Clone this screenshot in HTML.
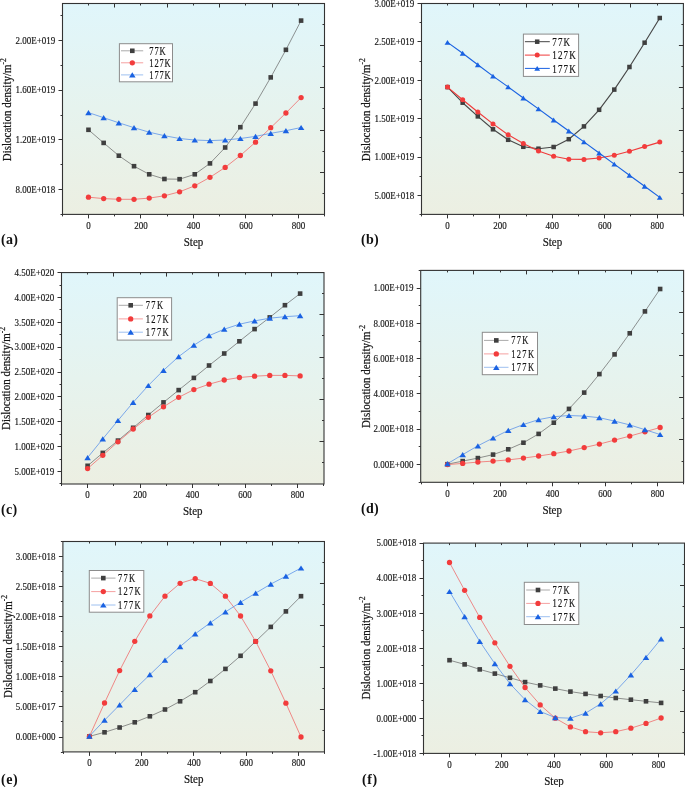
<!DOCTYPE html>
<html><head><meta charset="utf-8"><style>
html,body{margin:0;padding:0;background:#fff;width:685px;height:787px;overflow:hidden}
svg{display:block}
text{font-family:"Liberation Serif", serif;fill:#151515}
.t9{font-size:9px;stroke:#1a1a1a;stroke-width:0.15px}
.t11{font-size:11px;stroke:#1a1a1a;stroke-width:0.2px}
.sup{font-size:7.6px}
.lab{font-size:14px;font-weight:bold;fill:#111}
.leg{font-size:11.8px;fill:#151515;letter-spacing:1.7px;stroke:#1a1a1a;stroke-width:0.2px}
.tk{stroke:#333;stroke-width:1}
rect[fill=none]{stroke:#333}
</style></head><body>
<svg width="685" height="787" viewBox="0 0 685 787">
<defs><filter id="nf" x="0" y="0" width="1" height="1"><feOffset dx="0" dy="0"/></filter><linearGradient id="ga" x1="0" y1="0" x2="0" y2="1"><stop offset="0" stop-color="#e0f6fb"/><stop offset="0.5" stop-color="#e6f3ee"/><stop offset="1" stop-color="#ecefe2"/></linearGradient><linearGradient id="gb" x1="0" y1="0" x2="0" y2="1"><stop offset="0" stop-color="#e0f6fb"/><stop offset="0.5" stop-color="#e6f3ee"/><stop offset="1" stop-color="#ecefe2"/></linearGradient><linearGradient id="gc" x1="0" y1="0" x2="0" y2="1"><stop offset="0" stop-color="#e0f6fb"/><stop offset="0.5" stop-color="#e6f3ee"/><stop offset="1" stop-color="#ecefe2"/></linearGradient><linearGradient id="gd" x1="0" y1="0" x2="0" y2="1"><stop offset="0" stop-color="#e0f6fb"/><stop offset="0.5" stop-color="#e6f3ee"/><stop offset="1" stop-color="#ecefe2"/></linearGradient><linearGradient id="ge" x1="0" y1="0" x2="0" y2="1"><stop offset="0" stop-color="#e0f6fb"/><stop offset="0.5" stop-color="#e6f3ee"/><stop offset="1" stop-color="#ecefe2"/></linearGradient><linearGradient id="gf" x1="0" y1="0" x2="0" y2="1"><stop offset="0" stop-color="#e0f6fb"/><stop offset="0.5" stop-color="#e6f3ee"/><stop offset="1" stop-color="#ecefe2"/></linearGradient></defs>
<g id="pa"><rect x="62.5" y="3.5" width="262" height="210.9" fill="url(#ga)"/>
<line class="tk" x1="60.5" y1="214.5" x2="62.5" y2="214.5"/>
<line class="tk" x1="58.5" y1="189.5" x2="62.5" y2="189.5"/>
<line class="tk" x1="60.5" y1="164.5" x2="62.5" y2="164.5"/>
<line class="tk" x1="58.5" y1="139.5" x2="62.5" y2="139.5"/>
<line class="tk" x1="60.5" y1="115.5" x2="62.5" y2="115.5"/>
<line class="tk" x1="58.5" y1="90.5" x2="62.5" y2="90.5"/>
<line class="tk" x1="60.5" y1="65.5" x2="62.5" y2="65.5"/>
<line class="tk" x1="58.5" y1="40.5" x2="62.5" y2="40.5"/>
<line class="tk" x1="60.5" y1="15.5" x2="62.5" y2="15.5"/>
<line class="tk" x1="322.5" y1="24.5" x2="324.5" y2="24.5"/>
<line class="tk" x1="320" y1="45.5" x2="324.5" y2="45.5"/>
<line class="tk" x1="322.5" y1="66.5" x2="324.5" y2="66.5"/>
<line class="tk" x1="320" y1="87.5" x2="324.5" y2="87.5"/>
<line class="tk" x1="322.5" y1="108.5" x2="324.5" y2="108.5"/>
<line class="tk" x1="320" y1="130.5" x2="324.5" y2="130.5"/>
<line class="tk" x1="322.5" y1="151.5" x2="324.5" y2="151.5"/>
<line class="tk" x1="320" y1="172.5" x2="324.5" y2="172.5"/>
<line class="tk" x1="322.5" y1="193.5" x2="324.5" y2="193.5"/>
<line class="tk" x1="62.5" y1="214.4" x2="62.5" y2="216.4"/>
<line class="tk" x1="88.5" y1="214.4" x2="88.5" y2="218.4"/>
<line class="tk" x1="88.5" y1="3.5" x2="88.5" y2="5.5"/>
<line class="tk" x1="114.5" y1="214.4" x2="114.5" y2="216.4"/>
<line class="tk" x1="114.5" y1="3.5" x2="114.5" y2="7.5"/>
<line class="tk" x1="140.5" y1="214.4" x2="140.5" y2="218.4"/>
<line class="tk" x1="140.5" y1="3.5" x2="140.5" y2="5.5"/>
<line class="tk" x1="167.5" y1="214.4" x2="167.5" y2="216.4"/>
<line class="tk" x1="167.5" y1="3.5" x2="167.5" y2="7.5"/>
<line class="tk" x1="193.5" y1="214.4" x2="193.5" y2="218.4"/>
<line class="tk" x1="193.5" y1="3.5" x2="193.5" y2="5.5"/>
<line class="tk" x1="219.5" y1="214.4" x2="219.5" y2="216.4"/>
<line class="tk" x1="219.5" y1="3.5" x2="219.5" y2="7.5"/>
<line class="tk" x1="245.5" y1="214.4" x2="245.5" y2="218.4"/>
<line class="tk" x1="245.5" y1="3.5" x2="245.5" y2="5.5"/>
<line class="tk" x1="272.5" y1="214.4" x2="272.5" y2="216.4"/>
<line class="tk" x1="272.5" y1="3.5" x2="272.5" y2="7.5"/>
<line class="tk" x1="298.5" y1="214.4" x2="298.5" y2="218.4"/>
<line class="tk" x1="298.5" y1="3.5" x2="298.5" y2="5.5"/>
<line class="tk" x1="324.5" y1="214.4" x2="324.5" y2="216.4"/>
<rect x="62.5" y="3.5" width="262" height="210.9" fill="none" stroke-width="1.1"/>
<polyline points="88.47,129.8 103.66,142.9 118.84,155.7 134.03,166.2 149.22,174.3 164.41,179 179.6,179.2 194.78,174.3 209.97,163.4 225.16,147.5 240.35,127.2 255.53,103.6 270.72,77.4 285.91,49.8 301.1,20.6" fill="none" stroke="#646464" stroke-width="0.7" stroke-linejoin="round"/>
<rect x="86.17" y="127.5" width="4.6" height="4.6" fill="#3f3f3f"/>
<rect x="101.36" y="140.6" width="4.6" height="4.6" fill="#3f3f3f"/>
<rect x="116.55" y="153.4" width="4.6" height="4.6" fill="#3f3f3f"/>
<rect x="131.73" y="163.9" width="4.6" height="4.6" fill="#3f3f3f"/>
<rect x="146.92" y="172" width="4.6" height="4.6" fill="#3f3f3f"/>
<rect x="162.11" y="176.7" width="4.6" height="4.6" fill="#3f3f3f"/>
<rect x="177.3" y="176.9" width="4.6" height="4.6" fill="#3f3f3f"/>
<rect x="192.48" y="172" width="4.6" height="4.6" fill="#3f3f3f"/>
<rect x="207.67" y="161.1" width="4.6" height="4.6" fill="#3f3f3f"/>
<rect x="222.86" y="145.2" width="4.6" height="4.6" fill="#3f3f3f"/>
<rect x="238.05" y="124.9" width="4.6" height="4.6" fill="#3f3f3f"/>
<rect x="253.23" y="101.3" width="4.6" height="4.6" fill="#3f3f3f"/>
<rect x="268.42" y="75.1" width="4.6" height="4.6" fill="#3f3f3f"/>
<rect x="283.61" y="47.5" width="4.6" height="4.6" fill="#3f3f3f"/>
<rect x="298.8" y="18.3" width="4.6" height="4.6" fill="#3f3f3f"/>
<polyline points="88.47,197.2 103.66,198.6 118.84,199.3 134.03,199.3 149.22,198.1 164.41,195.8 179.6,191.8 194.78,185.8 209.97,177.3 225.16,167.4 240.35,155.5 255.53,142.2 270.72,127.7 285.91,113 301.1,97.6" fill="none" stroke="#f05a5a" stroke-width="0.7" stroke-linejoin="round"/>
<circle cx="88.47" cy="197.2" r="2.65" fill="#f23c3c"/>
<circle cx="103.66" cy="198.6" r="2.65" fill="#f23c3c"/>
<circle cx="118.84" cy="199.3" r="2.65" fill="#f23c3c"/>
<circle cx="134.03" cy="199.3" r="2.65" fill="#f23c3c"/>
<circle cx="149.22" cy="198.1" r="2.65" fill="#f23c3c"/>
<circle cx="164.41" cy="195.8" r="2.65" fill="#f23c3c"/>
<circle cx="179.6" cy="191.8" r="2.65" fill="#f23c3c"/>
<circle cx="194.78" cy="185.8" r="2.65" fill="#f23c3c"/>
<circle cx="209.97" cy="177.3" r="2.65" fill="#f23c3c"/>
<circle cx="225.16" cy="167.4" r="2.65" fill="#f23c3c"/>
<circle cx="240.35" cy="155.5" r="2.65" fill="#f23c3c"/>
<circle cx="255.53" cy="142.2" r="2.65" fill="#f23c3c"/>
<circle cx="270.72" cy="127.7" r="2.65" fill="#f23c3c"/>
<circle cx="285.91" cy="113" r="2.65" fill="#f23c3c"/>
<circle cx="301.1" cy="97.6" r="2.65" fill="#f23c3c"/>
<polyline points="88.47,112.6 103.66,117.7 118.84,122.8 134.03,127.7 149.22,132.2 164.41,135.7 179.6,138.5 194.78,140 209.97,140.6 225.16,140 240.35,138.5 255.53,136.4 270.72,133.3 285.91,130.7 301.1,127.5" fill="none" stroke="#4a86e8" stroke-width="0.7" stroke-linejoin="round"/>
<polygon points="85.22,115.2 91.72,115.2 88.47,110" fill="#1a62e2"/>
<polygon points="100.41,120.3 106.91,120.3 103.66,115.1" fill="#1a62e2"/>
<polygon points="115.59,125.4 122.09,125.4 118.84,120.2" fill="#1a62e2"/>
<polygon points="130.78,130.3 137.28,130.3 134.03,125.1" fill="#1a62e2"/>
<polygon points="145.97,134.8 152.47,134.8 149.22,129.6" fill="#1a62e2"/>
<polygon points="161.16,138.3 167.66,138.3 164.41,133.1" fill="#1a62e2"/>
<polygon points="176.35,141.1 182.85,141.1 179.6,135.9" fill="#1a62e2"/>
<polygon points="191.53,142.6 198.03,142.6 194.78,137.4" fill="#1a62e2"/>
<polygon points="206.72,143.2 213.22,143.2 209.97,138" fill="#1a62e2"/>
<polygon points="221.91,142.6 228.41,142.6 225.16,137.4" fill="#1a62e2"/>
<polygon points="237.1,141.1 243.6,141.1 240.35,135.9" fill="#1a62e2"/>
<polygon points="252.28,139 258.78,139 255.53,133.8" fill="#1a62e2"/>
<polygon points="267.47,135.9 273.97,135.9 270.72,130.7" fill="#1a62e2"/>
<polygon points="282.66,133.3 289.16,133.3 285.91,128.1" fill="#1a62e2"/>
<polygon points="297.85,130.1 304.35,130.1 301.1,124.9" fill="#1a62e2"/>
<rect x="119.4" y="43.7" width="53.1" height="38.1" fill="#ffffff" stroke="#8c8c8c" stroke-width="1"/>
<line x1="121" y1="50.8" x2="143.2" y2="50.8" stroke="#aaa" stroke-width="1"/>
<rect x="130" y="48.5" width="4.6" height="4.6" fill="#3f3f3f"/>
<line x1="121" y1="62.8" x2="143.2" y2="62.8" stroke="#f5a0a0" stroke-width="1"/>
<circle cx="132.3" cy="62.8" r="2.65" fill="#f23c3c"/>
<line x1="121" y1="74.9" x2="143.2" y2="74.9" stroke="#9ec0f0" stroke-width="1"/>
<polygon points="129.05,77.5 135.55,77.5 132.3,72.3" fill="#1a62e2"/><g filter="url(#nf)"><text class="t9" transform="translate(55.2,192.87) scale(1,1.08)" text-anchor="end">8.00E+018</text>
<text class="t9" transform="translate(55.2,143.18) scale(1,1.08)" text-anchor="end">1.20E+019</text>
<text class="t9" transform="translate(55.2,93.49) scale(1,1.08)" text-anchor="end">1.60E+019</text>
<text class="t9" transform="translate(55.2,43.8) scale(1,1.08)" text-anchor="end">2.00E+019</text>
<text class="t9" transform="translate(88.47,228.6) scale(1,1.08)" text-anchor="middle">0</text>
<text class="t9" transform="translate(140.97,228.6) scale(1,1.08)" text-anchor="middle">200</text>
<text class="t9" transform="translate(193.47,228.6) scale(1,1.08)" text-anchor="middle">400</text>
<text class="t9" transform="translate(245.97,228.6) scale(1,1.08)" text-anchor="middle">600</text>
<text class="t9" transform="translate(298.47,228.6) scale(1,1.08)" text-anchor="middle">800</text>
<text class="t11" transform="translate(193.5,245.6) scale(1,1.11)" text-anchor="middle">Step</text>
<text class="t11" transform="translate(10.9,161.2) rotate(-90) scale(1,1.11)">Dislocation density/m<tspan class="sup" dy="-4.4">-2</tspan></text>
<text class="lab" x="1" y="243.9" style="letter-spacing:0.25px">(a)</text>
<text class="leg" style="font-size:11.8px;letter-spacing:1.2px" transform="translate(149.3,54.69) scale(0.72,1)">77K</text>
<text class="leg" style="font-size:11.8px;letter-spacing:1.2px" transform="translate(149.3,66.69) scale(0.72,1)">127K</text>
<text class="leg" style="font-size:11.8px;letter-spacing:1.2px" transform="translate(149.3,78.79) scale(0.72,1)">177K</text></g></g>
<g id="pb"><rect x="421.5" y="3.5" width="261.9" height="210.9" fill="url(#gb)"/>
<line class="tk" x1="419.5" y1="214.5" x2="421.5" y2="214.5"/>
<line class="tk" x1="417.5" y1="195.5" x2="421.5" y2="195.5"/>
<line class="tk" x1="419.5" y1="176.5" x2="421.5" y2="176.5"/>
<line class="tk" x1="417.5" y1="157.5" x2="421.5" y2="157.5"/>
<line class="tk" x1="419.5" y1="137.5" x2="421.5" y2="137.5"/>
<line class="tk" x1="417.5" y1="118.5" x2="421.5" y2="118.5"/>
<line class="tk" x1="419.5" y1="99.5" x2="421.5" y2="99.5"/>
<line class="tk" x1="417.5" y1="80.5" x2="421.5" y2="80.5"/>
<line class="tk" x1="419.5" y1="61.5" x2="421.5" y2="61.5"/>
<line class="tk" x1="417.5" y1="41.5" x2="421.5" y2="41.5"/>
<line class="tk" x1="419.5" y1="22.5" x2="421.5" y2="22.5"/>
<line class="tk" x1="417.5" y1="3.5" x2="421.5" y2="3.5"/>
<line class="tk" x1="681.4" y1="24.5" x2="683.4" y2="24.5"/>
<line class="tk" x1="678.9" y1="45.5" x2="683.4" y2="45.5"/>
<line class="tk" x1="681.4" y1="66.5" x2="683.4" y2="66.5"/>
<line class="tk" x1="678.9" y1="87.5" x2="683.4" y2="87.5"/>
<line class="tk" x1="681.4" y1="108.5" x2="683.4" y2="108.5"/>
<line class="tk" x1="678.9" y1="130.5" x2="683.4" y2="130.5"/>
<line class="tk" x1="681.4" y1="151.5" x2="683.4" y2="151.5"/>
<line class="tk" x1="678.9" y1="172.5" x2="683.4" y2="172.5"/>
<line class="tk" x1="681.4" y1="193.5" x2="683.4" y2="193.5"/>
<line class="tk" x1="421.5" y1="214.4" x2="421.5" y2="216.4"/>
<line class="tk" x1="447.5" y1="214.4" x2="447.5" y2="218.4"/>
<line class="tk" x1="447.5" y1="3.5" x2="447.5" y2="5.5"/>
<line class="tk" x1="473.5" y1="214.4" x2="473.5" y2="216.4"/>
<line class="tk" x1="473.5" y1="3.5" x2="473.5" y2="7.5"/>
<line class="tk" x1="499.5" y1="214.4" x2="499.5" y2="218.4"/>
<line class="tk" x1="499.5" y1="3.5" x2="499.5" y2="5.5"/>
<line class="tk" x1="526.5" y1="214.4" x2="526.5" y2="216.4"/>
<line class="tk" x1="526.5" y1="3.5" x2="526.5" y2="7.5"/>
<line class="tk" x1="552.5" y1="214.4" x2="552.5" y2="218.4"/>
<line class="tk" x1="552.5" y1="3.5" x2="552.5" y2="5.5"/>
<line class="tk" x1="578.5" y1="214.4" x2="578.5" y2="216.4"/>
<line class="tk" x1="578.5" y1="3.5" x2="578.5" y2="7.5"/>
<line class="tk" x1="604.5" y1="214.4" x2="604.5" y2="218.4"/>
<line class="tk" x1="604.5" y1="3.5" x2="604.5" y2="5.5"/>
<line class="tk" x1="630.5" y1="214.4" x2="630.5" y2="216.4"/>
<line class="tk" x1="630.5" y1="3.5" x2="630.5" y2="7.5"/>
<line class="tk" x1="657.5" y1="214.4" x2="657.5" y2="218.4"/>
<line class="tk" x1="657.5" y1="3.5" x2="657.5" y2="5.5"/>
<line class="tk" x1="683.5" y1="214.4" x2="683.5" y2="216.4"/>
<rect x="421.5" y="3.5" width="261.9" height="210.9" fill="none" stroke-width="1.1"/>
<polyline points="447.5,87.1 462.66,102.7 477.82,116.4 492.99,129.3 508.15,139.8 523.31,146.8 538.47,148.7 553.64,147 568.8,139.2 583.96,126.4 599.12,109.8 614.28,89.6 629.45,67 644.61,42.7 659.77,18" fill="none" stroke="#474747" stroke-width="1.15" stroke-linejoin="round"/>
<rect x="445.25" y="84.85" width="4.5" height="4.5" fill="#3f3f3f"/>
<rect x="460.41" y="100.45" width="4.5" height="4.5" fill="#3f3f3f"/>
<rect x="475.57" y="114.15" width="4.5" height="4.5" fill="#3f3f3f"/>
<rect x="490.74" y="127.05" width="4.5" height="4.5" fill="#3f3f3f"/>
<rect x="505.9" y="137.55" width="4.5" height="4.5" fill="#3f3f3f"/>
<rect x="521.06" y="144.55" width="4.5" height="4.5" fill="#3f3f3f"/>
<rect x="536.22" y="146.45" width="4.5" height="4.5" fill="#3f3f3f"/>
<rect x="551.39" y="144.75" width="4.5" height="4.5" fill="#3f3f3f"/>
<rect x="566.55" y="136.95" width="4.5" height="4.5" fill="#3f3f3f"/>
<rect x="581.71" y="124.15" width="4.5" height="4.5" fill="#3f3f3f"/>
<rect x="596.87" y="107.55" width="4.5" height="4.5" fill="#3f3f3f"/>
<rect x="612.03" y="87.35" width="4.5" height="4.5" fill="#3f3f3f"/>
<rect x="627.2" y="64.75" width="4.5" height="4.5" fill="#3f3f3f"/>
<rect x="642.36" y="40.45" width="4.5" height="4.5" fill="#3f3f3f"/>
<rect x="657.52" y="15.75" width="4.5" height="4.5" fill="#3f3f3f"/>
<polyline points="447.5,87.1 462.66,99.7 477.82,112 492.99,123.9 508.15,134.7 523.31,143.6 538.47,151 553.64,156.2 568.8,159.2 583.96,159.4 599.12,158 614.28,155.2 629.45,151.3 644.61,146.6 659.77,142.1" fill="none" stroke="#f03a3a" stroke-width="1.15" stroke-linejoin="round"/>
<circle cx="447.5" cy="87.1" r="2.5" fill="#f23c3c"/>
<circle cx="462.66" cy="99.7" r="2.5" fill="#f23c3c"/>
<circle cx="477.82" cy="112" r="2.5" fill="#f23c3c"/>
<circle cx="492.99" cy="123.9" r="2.5" fill="#f23c3c"/>
<circle cx="508.15" cy="134.7" r="2.5" fill="#f23c3c"/>
<circle cx="523.31" cy="143.6" r="2.5" fill="#f23c3c"/>
<circle cx="538.47" cy="151" r="2.5" fill="#f23c3c"/>
<circle cx="553.64" cy="156.2" r="2.5" fill="#f23c3c"/>
<circle cx="568.8" cy="159.2" r="2.5" fill="#f23c3c"/>
<circle cx="583.96" cy="159.4" r="2.5" fill="#f23c3c"/>
<circle cx="599.12" cy="158" r="2.5" fill="#f23c3c"/>
<circle cx="614.28" cy="155.2" r="2.5" fill="#f23c3c"/>
<circle cx="629.45" cy="151.3" r="2.5" fill="#f23c3c"/>
<circle cx="644.61" cy="146.6" r="2.5" fill="#f23c3c"/>
<circle cx="659.77" cy="142.1" r="2.5" fill="#f23c3c"/>
<polyline points="447.5,42.4 462.66,53.3 477.82,64.7 492.99,76.1 508.15,86.9 523.31,98 538.47,108.9 553.64,120 568.8,131 583.96,141.9 599.12,153 614.28,164.15 629.45,175.3 644.61,186.2 659.77,197.4" fill="none" stroke="#1a62e2" stroke-width="1.15" stroke-linejoin="round"/>
<polygon points="444.6,44.85 450.4,44.85 447.5,39.95" fill="#1a62e2"/>
<polygon points="459.76,55.75 465.56,55.75 462.66,50.85" fill="#1a62e2"/>
<polygon points="474.92,67.15 480.72,67.15 477.82,62.25" fill="#1a62e2"/>
<polygon points="490.09,78.55 495.89,78.55 492.99,73.65" fill="#1a62e2"/>
<polygon points="505.25,89.35 511.05,89.35 508.15,84.45" fill="#1a62e2"/>
<polygon points="520.41,100.45 526.21,100.45 523.31,95.55" fill="#1a62e2"/>
<polygon points="535.57,111.35 541.37,111.35 538.47,106.45" fill="#1a62e2"/>
<polygon points="550.74,122.45 556.54,122.45 553.64,117.55" fill="#1a62e2"/>
<polygon points="565.9,133.45 571.7,133.45 568.8,128.55" fill="#1a62e2"/>
<polygon points="581.06,144.35 586.86,144.35 583.96,139.45" fill="#1a62e2"/>
<polygon points="596.22,155.45 602.02,155.45 599.12,150.55" fill="#1a62e2"/>
<polygon points="611.38,166.6 617.18,166.6 614.28,161.7" fill="#1a62e2"/>
<polygon points="626.55,177.75 632.35,177.75 629.45,172.85" fill="#1a62e2"/>
<polygon points="641.71,188.65 647.51,188.65 644.61,183.75" fill="#1a62e2"/>
<polygon points="656.87,199.85 662.67,199.85 659.77,194.95" fill="#1a62e2"/>
<rect x="523.4" y="34.1" width="55.2" height="42.3" fill="#ffffff" stroke="#8c8c8c" stroke-width="1"/>
<line x1="524.9" y1="41.7" x2="549.8" y2="41.7" stroke="#444" stroke-width="1"/>
<rect x="534.95" y="39.45" width="4.5" height="4.5" fill="#3f3f3f"/>
<line x1="524.9" y1="55.1" x2="549.8" y2="55.1" stroke="#f03a3a" stroke-width="1"/>
<circle cx="537.2" cy="55.1" r="2.5" fill="#f23c3c"/>
<line x1="524.9" y1="68.4" x2="549.8" y2="68.4" stroke="#1a62e2" stroke-width="1"/>
<polygon points="534.3,70.85 540.1,70.85 537.2,65.95" fill="#1a62e2"/><g filter="url(#nf)"><text class="t9" transform="translate(414.2,198.87) scale(1,1.08)" text-anchor="end">5.00E+018</text>
<text class="t9" transform="translate(414.2,160.46) scale(1,1.08)" text-anchor="end">1.00E+019</text>
<text class="t9" transform="translate(414.2,122.04) scale(1,1.08)" text-anchor="end">1.50E+019</text>
<text class="t9" transform="translate(414.2,83.63) scale(1,1.08)" text-anchor="end">2.00E+019</text>
<text class="t9" transform="translate(414.2,45.21) scale(1,1.08)" text-anchor="end">2.50E+019</text>
<text class="t9" transform="translate(414.2,6.8) scale(1,1.08)" text-anchor="end">3.00E+019</text>
<text class="t9" transform="translate(447.5,228.6) scale(1,1.08)" text-anchor="middle">0</text>
<text class="t9" transform="translate(499.91,228.6) scale(1,1.08)" text-anchor="middle">200</text>
<text class="t9" transform="translate(552.33,228.6) scale(1,1.08)" text-anchor="middle">400</text>
<text class="t9" transform="translate(604.74,228.6) scale(1,1.08)" text-anchor="middle">600</text>
<text class="t9" transform="translate(657.15,228.6) scale(1,1.08)" text-anchor="middle">800</text>
<text class="t11" transform="translate(552.45,245.6) scale(1,1.11)" text-anchor="middle">Step</text>
<text class="t11" transform="translate(370,161.2) rotate(-90) scale(1,1.11)">Dislocation density/m<tspan class="sup" dy="-4.4">-2</tspan></text>
<text class="lab" x="361" y="243.9" style="letter-spacing:0.25px">(b)</text>
<text class="leg" style="font-size:12.6px;letter-spacing:1.6px" transform="translate(552.2,45.86) scale(0.72,1)">77K</text>
<text class="leg" style="font-size:12.6px;letter-spacing:1.6px" transform="translate(552.2,59.26) scale(0.72,1)">127K</text>
<text class="leg" style="font-size:12.6px;letter-spacing:1.6px" transform="translate(552.2,72.56) scale(0.72,1)">177K</text></g></g>
<g id="pc"><rect x="61.5" y="272.57" width="262.5" height="211.43" fill="url(#gc)"/>
<line class="tk" x1="59.5" y1="483.5" x2="61.5" y2="483.5"/>
<line class="tk" x1="57.5" y1="471.5" x2="61.5" y2="471.5"/>
<line class="tk" x1="59.5" y1="459.5" x2="61.5" y2="459.5"/>
<line class="tk" x1="57.5" y1="446.5" x2="61.5" y2="446.5"/>
<line class="tk" x1="59.5" y1="434.5" x2="61.5" y2="434.5"/>
<line class="tk" x1="57.5" y1="421.5" x2="61.5" y2="421.5"/>
<line class="tk" x1="59.5" y1="409.5" x2="61.5" y2="409.5"/>
<line class="tk" x1="57.5" y1="396.5" x2="61.5" y2="396.5"/>
<line class="tk" x1="59.5" y1="384.5" x2="61.5" y2="384.5"/>
<line class="tk" x1="57.5" y1="372.5" x2="61.5" y2="372.5"/>
<line class="tk" x1="59.5" y1="359.5" x2="61.5" y2="359.5"/>
<line class="tk" x1="57.5" y1="347.5" x2="61.5" y2="347.5"/>
<line class="tk" x1="59.5" y1="334.5" x2="61.5" y2="334.5"/>
<line class="tk" x1="57.5" y1="322.5" x2="61.5" y2="322.5"/>
<line class="tk" x1="59.5" y1="309.5" x2="61.5" y2="309.5"/>
<line class="tk" x1="57.5" y1="297.5" x2="61.5" y2="297.5"/>
<line class="tk" x1="59.5" y1="285.5" x2="61.5" y2="285.5"/>
<line class="tk" x1="57.5" y1="272.5" x2="61.5" y2="272.5"/>
<line class="tk" x1="322" y1="293.5" x2="324" y2="293.5"/>
<line class="tk" x1="319.5" y1="314.5" x2="324" y2="314.5"/>
<line class="tk" x1="322" y1="335.5" x2="324" y2="335.5"/>
<line class="tk" x1="319.5" y1="357.5" x2="324" y2="357.5"/>
<line class="tk" x1="322" y1="378.5" x2="324" y2="378.5"/>
<line class="tk" x1="319.5" y1="399.5" x2="324" y2="399.5"/>
<line class="tk" x1="322" y1="420.5" x2="324" y2="420.5"/>
<line class="tk" x1="319.5" y1="441.5" x2="324" y2="441.5"/>
<line class="tk" x1="322" y1="462.5" x2="324" y2="462.5"/>
<line class="tk" x1="61.5" y1="484" x2="61.5" y2="486"/>
<line class="tk" x1="87.5" y1="484" x2="87.5" y2="488"/>
<line class="tk" x1="87.5" y1="272.57" x2="87.5" y2="274.57"/>
<line class="tk" x1="113.5" y1="484" x2="113.5" y2="486"/>
<line class="tk" x1="113.5" y1="272.57" x2="113.5" y2="276.57"/>
<line class="tk" x1="140.5" y1="484" x2="140.5" y2="488"/>
<line class="tk" x1="140.5" y1="272.57" x2="140.5" y2="274.57"/>
<line class="tk" x1="166.5" y1="484" x2="166.5" y2="486"/>
<line class="tk" x1="166.5" y1="272.57" x2="166.5" y2="276.57"/>
<line class="tk" x1="192.5" y1="484" x2="192.5" y2="488"/>
<line class="tk" x1="192.5" y1="272.57" x2="192.5" y2="274.57"/>
<line class="tk" x1="218.5" y1="484" x2="218.5" y2="486"/>
<line class="tk" x1="218.5" y1="272.57" x2="218.5" y2="276.57"/>
<line class="tk" x1="245.5" y1="484" x2="245.5" y2="488"/>
<line class="tk" x1="245.5" y1="272.57" x2="245.5" y2="274.57"/>
<line class="tk" x1="271.5" y1="484" x2="271.5" y2="486"/>
<line class="tk" x1="271.5" y1="272.57" x2="271.5" y2="276.57"/>
<line class="tk" x1="297.5" y1="484" x2="297.5" y2="488"/>
<line class="tk" x1="297.5" y1="272.57" x2="297.5" y2="274.57"/>
<line class="tk" x1="323.5" y1="484" x2="323.5" y2="486"/>
<rect x="61.5" y="272.57" width="262.5" height="211.43" fill="none" stroke-width="1.1"/>
<polyline points="87.6,465.8 102.78,452.9 117.96,440.6 133.14,427.8 148.32,415 163.5,402.4 178.68,390.1 193.86,377.9 209.04,365.5 224.22,353.5 239.4,341.3 254.58,329.1 269.76,317.4 284.94,305.2 300.12,293.6" fill="none" stroke="#646464" stroke-width="0.7" stroke-linejoin="round"/>
<rect x="85.3" y="463.5" width="4.6" height="4.6" fill="#3f3f3f"/>
<rect x="100.48" y="450.6" width="4.6" height="4.6" fill="#3f3f3f"/>
<rect x="115.66" y="438.3" width="4.6" height="4.6" fill="#3f3f3f"/>
<rect x="130.84" y="425.5" width="4.6" height="4.6" fill="#3f3f3f"/>
<rect x="146.02" y="412.7" width="4.6" height="4.6" fill="#3f3f3f"/>
<rect x="161.2" y="400.1" width="4.6" height="4.6" fill="#3f3f3f"/>
<rect x="176.38" y="387.8" width="4.6" height="4.6" fill="#3f3f3f"/>
<rect x="191.56" y="375.6" width="4.6" height="4.6" fill="#3f3f3f"/>
<rect x="206.74" y="363.2" width="4.6" height="4.6" fill="#3f3f3f"/>
<rect x="221.92" y="351.2" width="4.6" height="4.6" fill="#3f3f3f"/>
<rect x="237.1" y="339" width="4.6" height="4.6" fill="#3f3f3f"/>
<rect x="252.28" y="326.8" width="4.6" height="4.6" fill="#3f3f3f"/>
<rect x="267.46" y="315.1" width="4.6" height="4.6" fill="#3f3f3f"/>
<rect x="282.64" y="302.9" width="4.6" height="4.6" fill="#3f3f3f"/>
<rect x="297.82" y="291.3" width="4.6" height="4.6" fill="#3f3f3f"/>
<polyline points="87.6,468.6 102.78,455.3 117.96,441.8 133.14,429 148.32,417.3 163.5,406.8 178.68,397.3 193.86,389.6 209.04,384.2 224.22,380 239.4,377.5 254.58,376.2 269.76,375.4 284.94,375.4 300.12,375.9" fill="none" stroke="#f05a5a" stroke-width="0.7" stroke-linejoin="round"/>
<circle cx="87.6" cy="468.6" r="2.65" fill="#f23c3c"/>
<circle cx="102.78" cy="455.3" r="2.65" fill="#f23c3c"/>
<circle cx="117.96" cy="441.8" r="2.65" fill="#f23c3c"/>
<circle cx="133.14" cy="429" r="2.65" fill="#f23c3c"/>
<circle cx="148.32" cy="417.3" r="2.65" fill="#f23c3c"/>
<circle cx="163.5" cy="406.8" r="2.65" fill="#f23c3c"/>
<circle cx="178.68" cy="397.3" r="2.65" fill="#f23c3c"/>
<circle cx="193.86" cy="389.6" r="2.65" fill="#f23c3c"/>
<circle cx="209.04" cy="384.2" r="2.65" fill="#f23c3c"/>
<circle cx="224.22" cy="380" r="2.65" fill="#f23c3c"/>
<circle cx="239.4" cy="377.5" r="2.65" fill="#f23c3c"/>
<circle cx="254.58" cy="376.2" r="2.65" fill="#f23c3c"/>
<circle cx="269.76" cy="375.4" r="2.65" fill="#f23c3c"/>
<circle cx="284.94" cy="375.4" r="2.65" fill="#f23c3c"/>
<circle cx="300.12" cy="375.9" r="2.65" fill="#f23c3c"/>
<polyline points="87.6,457.6 102.78,438.9 117.96,420.5 133.14,402.4 148.32,385.5 163.5,370.3 178.68,356.6 193.86,345.2 209.04,335.7 224.22,329.2 239.4,324.2 254.58,320.9 269.76,318.2 284.94,316.7 300.12,315.7" fill="none" stroke="#4a86e8" stroke-width="0.7" stroke-linejoin="round"/>
<polygon points="84.35,460.2 90.85,460.2 87.6,455" fill="#1a62e2"/>
<polygon points="99.53,441.5 106.03,441.5 102.78,436.3" fill="#1a62e2"/>
<polygon points="114.71,423.1 121.21,423.1 117.96,417.9" fill="#1a62e2"/>
<polygon points="129.89,405 136.39,405 133.14,399.8" fill="#1a62e2"/>
<polygon points="145.07,388.1 151.57,388.1 148.32,382.9" fill="#1a62e2"/>
<polygon points="160.25,372.9 166.75,372.9 163.5,367.7" fill="#1a62e2"/>
<polygon points="175.43,359.2 181.93,359.2 178.68,354" fill="#1a62e2"/>
<polygon points="190.61,347.8 197.11,347.8 193.86,342.6" fill="#1a62e2"/>
<polygon points="205.79,338.3 212.29,338.3 209.04,333.1" fill="#1a62e2"/>
<polygon points="220.97,331.8 227.47,331.8 224.22,326.6" fill="#1a62e2"/>
<polygon points="236.15,326.8 242.65,326.8 239.4,321.6" fill="#1a62e2"/>
<polygon points="251.33,323.5 257.83,323.5 254.58,318.3" fill="#1a62e2"/>
<polygon points="266.51,320.8 273.01,320.8 269.76,315.6" fill="#1a62e2"/>
<polygon points="281.69,319.3 288.19,319.3 284.94,314.1" fill="#1a62e2"/>
<polygon points="296.87,318.3 303.37,318.3 300.12,313.1" fill="#1a62e2"/>
<rect x="117.2" y="297.7" width="54.4" height="42.4" fill="#ffffff" stroke="#8c8c8c" stroke-width="1"/>
<line x1="118.7" y1="305.3" x2="142.9" y2="305.3" stroke="#aaa" stroke-width="1"/>
<rect x="128.4" y="303" width="4.6" height="4.6" fill="#3f3f3f"/>
<line x1="118.7" y1="318.9" x2="142.9" y2="318.9" stroke="#f5a0a0" stroke-width="1"/>
<circle cx="130.7" cy="318.9" r="2.65" fill="#f23c3c"/>
<line x1="118.7" y1="332.2" x2="142.9" y2="332.2" stroke="#9ec0f0" stroke-width="1"/>
<polygon points="127.45,334.8 133.95,334.8 130.7,329.6" fill="#1a62e2"/><g filter="url(#nf)"><text class="t9" transform="translate(54.2,474.75) scale(1,1.08)" text-anchor="end">5.00E+019</text>
<text class="t9" transform="translate(54.2,449.89) scale(1,1.08)" text-anchor="end">1.00E+020</text>
<text class="t9" transform="translate(54.2,425.03) scale(1,1.08)" text-anchor="end">1.50E+020</text>
<text class="t9" transform="translate(54.2,400.17) scale(1,1.08)" text-anchor="end">2.00E+020</text>
<text class="t9" transform="translate(54.2,375.31) scale(1,1.08)" text-anchor="end">2.50E+020</text>
<text class="t9" transform="translate(54.2,350.45) scale(1,1.08)" text-anchor="end">3.00E+020</text>
<text class="t9" transform="translate(54.2,325.59) scale(1,1.08)" text-anchor="end">3.50E+020</text>
<text class="t9" transform="translate(54.2,300.73) scale(1,1.08)" text-anchor="end">4.00E+020</text>
<text class="t9" transform="translate(54.2,275.87) scale(1,1.08)" text-anchor="end">4.50E+020</text>
<text class="t9" transform="translate(87.6,498.2) scale(1,1.08)" text-anchor="middle">0</text>
<text class="t9" transform="translate(140.07,498.2) scale(1,1.08)" text-anchor="middle">200</text>
<text class="t9" transform="translate(192.55,498.2) scale(1,1.08)" text-anchor="middle">400</text>
<text class="t9" transform="translate(245.03,498.2) scale(1,1.08)" text-anchor="middle">600</text>
<text class="t9" transform="translate(297.5,498.2) scale(1,1.08)" text-anchor="middle">800</text>
<text class="t11" transform="translate(192.75,515.2) scale(1,1.11)" text-anchor="middle">Step</text>
<text class="t11" transform="translate(9.9,430) rotate(-90) scale(1,1.11)">Dislocation density/m<tspan class="sup" dy="-4.4">-2</tspan></text>
<text class="lab" x="1" y="513.5" style="letter-spacing:0.25px">(c)</text>
<text class="leg" style="font-size:11.8px;letter-spacing:1.85px" transform="translate(145.8,309.19) scale(0.72,1)">77K</text>
<text class="leg" style="font-size:11.8px;letter-spacing:1.85px" transform="translate(145.8,322.79) scale(0.72,1)">127K</text>
<text class="leg" style="font-size:11.8px;letter-spacing:1.85px" transform="translate(145.8,336.09) scale(0.72,1)">177K</text></g></g>
<g id="pd"><rect x="420.7" y="270.4" width="262.9" height="211.9" fill="url(#gd)"/>
<line class="tk" x1="418.7" y1="482.5" x2="420.7" y2="482.5"/>
<line class="tk" x1="416.7" y1="464.5" x2="420.7" y2="464.5"/>
<line class="tk" x1="418.7" y1="446.5" x2="420.7" y2="446.5"/>
<line class="tk" x1="416.7" y1="429.5" x2="420.7" y2="429.5"/>
<line class="tk" x1="418.7" y1="411.5" x2="420.7" y2="411.5"/>
<line class="tk" x1="416.7" y1="393.5" x2="420.7" y2="393.5"/>
<line class="tk" x1="418.7" y1="376.5" x2="420.7" y2="376.5"/>
<line class="tk" x1="416.7" y1="358.5" x2="420.7" y2="358.5"/>
<line class="tk" x1="418.7" y1="341.5" x2="420.7" y2="341.5"/>
<line class="tk" x1="416.7" y1="323.5" x2="420.7" y2="323.5"/>
<line class="tk" x1="418.7" y1="305.5" x2="420.7" y2="305.5"/>
<line class="tk" x1="416.7" y1="288.5" x2="420.7" y2="288.5"/>
<line class="tk" x1="418.7" y1="270.5" x2="420.7" y2="270.5"/>
<line class="tk" x1="681.6" y1="291.5" x2="683.6" y2="291.5"/>
<line class="tk" x1="679.1" y1="312.5" x2="683.6" y2="312.5"/>
<line class="tk" x1="681.6" y1="333.5" x2="683.6" y2="333.5"/>
<line class="tk" x1="679.1" y1="355.5" x2="683.6" y2="355.5"/>
<line class="tk" x1="681.6" y1="376.5" x2="683.6" y2="376.5"/>
<line class="tk" x1="679.1" y1="397.5" x2="683.6" y2="397.5"/>
<line class="tk" x1="681.6" y1="418.5" x2="683.6" y2="418.5"/>
<line class="tk" x1="679.1" y1="439.5" x2="683.6" y2="439.5"/>
<line class="tk" x1="681.6" y1="461.5" x2="683.6" y2="461.5"/>
<line class="tk" x1="421.5" y1="482.3" x2="421.5" y2="484.3"/>
<line class="tk" x1="447.5" y1="482.3" x2="447.5" y2="486.3"/>
<line class="tk" x1="447.5" y1="270.4" x2="447.5" y2="272.4"/>
<line class="tk" x1="473.5" y1="482.3" x2="473.5" y2="484.3"/>
<line class="tk" x1="473.5" y1="270.4" x2="473.5" y2="274.4"/>
<line class="tk" x1="500.5" y1="482.3" x2="500.5" y2="486.3"/>
<line class="tk" x1="500.5" y1="270.4" x2="500.5" y2="272.4"/>
<line class="tk" x1="526.5" y1="482.3" x2="526.5" y2="484.3"/>
<line class="tk" x1="526.5" y1="270.4" x2="526.5" y2="274.4"/>
<line class="tk" x1="552.5" y1="482.3" x2="552.5" y2="486.3"/>
<line class="tk" x1="552.5" y1="270.4" x2="552.5" y2="272.4"/>
<line class="tk" x1="578.5" y1="482.3" x2="578.5" y2="484.3"/>
<line class="tk" x1="578.5" y1="270.4" x2="578.5" y2="274.4"/>
<line class="tk" x1="605.5" y1="482.3" x2="605.5" y2="486.3"/>
<line class="tk" x1="605.5" y1="270.4" x2="605.5" y2="272.4"/>
<line class="tk" x1="631.5" y1="482.3" x2="631.5" y2="484.3"/>
<line class="tk" x1="631.5" y1="270.4" x2="631.5" y2="274.4"/>
<line class="tk" x1="657.5" y1="482.3" x2="657.5" y2="486.3"/>
<line class="tk" x1="657.5" y1="270.4" x2="657.5" y2="272.4"/>
<line class="tk" x1="683.5" y1="482.3" x2="683.5" y2="484.3"/>
<rect x="420.7" y="270.4" width="262.9" height="211.9" fill="none" stroke-width="1.1"/>
<polyline points="447.5,464.2 462.69,461.1 477.88,458.1 493.06,454.6 508.25,449.3 523.44,442.7 538.62,433.9 553.81,422.7 569,408.9 584.19,392.6 599.38,374.1 614.56,354.4 629.75,333.3 644.94,311.4 660.12,289" fill="none" stroke="#646464" stroke-width="0.7" stroke-linejoin="round"/>
<rect x="445.2" y="461.9" width="4.6" height="4.6" fill="#3f3f3f"/>
<rect x="460.39" y="458.8" width="4.6" height="4.6" fill="#3f3f3f"/>
<rect x="475.57" y="455.8" width="4.6" height="4.6" fill="#3f3f3f"/>
<rect x="490.76" y="452.3" width="4.6" height="4.6" fill="#3f3f3f"/>
<rect x="505.95" y="447" width="4.6" height="4.6" fill="#3f3f3f"/>
<rect x="521.14" y="440.4" width="4.6" height="4.6" fill="#3f3f3f"/>
<rect x="536.33" y="431.6" width="4.6" height="4.6" fill="#3f3f3f"/>
<rect x="551.51" y="420.4" width="4.6" height="4.6" fill="#3f3f3f"/>
<rect x="566.7" y="406.6" width="4.6" height="4.6" fill="#3f3f3f"/>
<rect x="581.89" y="390.3" width="4.6" height="4.6" fill="#3f3f3f"/>
<rect x="597.08" y="371.8" width="4.6" height="4.6" fill="#3f3f3f"/>
<rect x="612.26" y="352.1" width="4.6" height="4.6" fill="#3f3f3f"/>
<rect x="627.45" y="331" width="4.6" height="4.6" fill="#3f3f3f"/>
<rect x="642.64" y="309.1" width="4.6" height="4.6" fill="#3f3f3f"/>
<rect x="657.83" y="286.7" width="4.6" height="4.6" fill="#3f3f3f"/>
<polyline points="447.5,464.6 462.69,463.4 477.88,462.1 493.06,461.1 508.25,459.9 523.44,458.1 538.62,456 553.81,453.7 569,451 584.19,447.6 599.38,444.1 614.56,440.1 629.75,436.1 644.94,431.8 660.12,427.5" fill="none" stroke="#f05a5a" stroke-width="0.7" stroke-linejoin="round"/>
<circle cx="447.5" cy="464.6" r="2.65" fill="#f23c3c"/>
<circle cx="462.69" cy="463.4" r="2.65" fill="#f23c3c"/>
<circle cx="477.88" cy="462.1" r="2.65" fill="#f23c3c"/>
<circle cx="493.06" cy="461.1" r="2.65" fill="#f23c3c"/>
<circle cx="508.25" cy="459.9" r="2.65" fill="#f23c3c"/>
<circle cx="523.44" cy="458.1" r="2.65" fill="#f23c3c"/>
<circle cx="538.62" cy="456" r="2.65" fill="#f23c3c"/>
<circle cx="553.81" cy="453.7" r="2.65" fill="#f23c3c"/>
<circle cx="569" cy="451" r="2.65" fill="#f23c3c"/>
<circle cx="584.19" cy="447.6" r="2.65" fill="#f23c3c"/>
<circle cx="599.38" cy="444.1" r="2.65" fill="#f23c3c"/>
<circle cx="614.56" cy="440.1" r="2.65" fill="#f23c3c"/>
<circle cx="629.75" cy="436.1" r="2.65" fill="#f23c3c"/>
<circle cx="644.94" cy="431.8" r="2.65" fill="#f23c3c"/>
<circle cx="660.12" cy="427.5" r="2.65" fill="#f23c3c"/>
<polyline points="447.5,463.7 462.69,454.6 477.88,445.8 493.06,438 508.25,430.4 523.44,424.5 538.62,419.6 553.81,416.7 569,415.5 584.19,416.1 599.38,417.7 614.56,421.1 629.75,424.9 644.94,429.7 660.12,434.5" fill="none" stroke="#4a86e8" stroke-width="0.7" stroke-linejoin="round"/>
<polygon points="444.25,466.3 450.75,466.3 447.5,461.1" fill="#1a62e2"/>
<polygon points="459.44,457.2 465.94,457.2 462.69,452" fill="#1a62e2"/>
<polygon points="474.62,448.4 481.12,448.4 477.88,443.2" fill="#1a62e2"/>
<polygon points="489.81,440.6 496.31,440.6 493.06,435.4" fill="#1a62e2"/>
<polygon points="505,433 511.5,433 508.25,427.8" fill="#1a62e2"/>
<polygon points="520.19,427.1 526.69,427.1 523.44,421.9" fill="#1a62e2"/>
<polygon points="535.38,422.2 541.88,422.2 538.62,417" fill="#1a62e2"/>
<polygon points="550.56,419.3 557.06,419.3 553.81,414.1" fill="#1a62e2"/>
<polygon points="565.75,418.1 572.25,418.1 569,412.9" fill="#1a62e2"/>
<polygon points="580.94,418.7 587.44,418.7 584.19,413.5" fill="#1a62e2"/>
<polygon points="596.12,420.3 602.62,420.3 599.38,415.1" fill="#1a62e2"/>
<polygon points="611.31,423.7 617.81,423.7 614.56,418.5" fill="#1a62e2"/>
<polygon points="626.5,427.5 633,427.5 629.75,422.3" fill="#1a62e2"/>
<polygon points="641.69,432.3 648.19,432.3 644.94,427.1" fill="#1a62e2"/>
<polygon points="656.88,437.1 663.38,437.1 660.12,431.9" fill="#1a62e2"/>
<rect x="482.3" y="332.3" width="55.2" height="42.4" fill="#ffffff" stroke="#8c8c8c" stroke-width="1"/>
<line x1="484" y1="340.4" x2="508.5" y2="340.4" stroke="#aaa" stroke-width="1"/>
<rect x="494" y="338.1" width="4.6" height="4.6" fill="#3f3f3f"/>
<line x1="484" y1="353.9" x2="508.5" y2="353.9" stroke="#f5a0a0" stroke-width="1"/>
<circle cx="496.3" cy="353.9" r="2.65" fill="#f23c3c"/>
<line x1="484" y1="367.3" x2="508.5" y2="367.3" stroke="#9ec0f0" stroke-width="1"/>
<polygon points="493.05,369.9 499.55,369.9 496.3,364.7" fill="#1a62e2"/><g filter="url(#nf)"><text class="t9" transform="translate(413.4,467.75) scale(1,1.08)" text-anchor="end">0.00E+000</text>
<text class="t9" transform="translate(413.4,432.48) scale(1,1.08)" text-anchor="end">2.00E+018</text>
<text class="t9" transform="translate(413.4,397.21) scale(1,1.08)" text-anchor="end">4.00E+018</text>
<text class="t9" transform="translate(413.4,361.94) scale(1,1.08)" text-anchor="end">6.00E+018</text>
<text class="t9" transform="translate(413.4,326.67) scale(1,1.08)" text-anchor="end">8.00E+018</text>
<text class="t9" transform="translate(413.4,291.4) scale(1,1.08)" text-anchor="end">1.00E+019</text>
<text class="t9" transform="translate(447.5,496.5) scale(1,1.08)" text-anchor="middle">0</text>
<text class="t9" transform="translate(500,496.5) scale(1,1.08)" text-anchor="middle">200</text>
<text class="t9" transform="translate(552.5,496.5) scale(1,1.08)" text-anchor="middle">400</text>
<text class="t9" transform="translate(605,496.5) scale(1,1.08)" text-anchor="middle">600</text>
<text class="t9" transform="translate(657.5,496.5) scale(1,1.08)" text-anchor="middle">800</text>
<text class="t11" transform="translate(552.15,513.5) scale(1,1.11)" text-anchor="middle">Step</text>
<text class="t11" transform="translate(370,428.1) rotate(-90) scale(1,1.11)">Dislocation density/m<tspan class="sup" dy="-4.4">-2</tspan></text>
<text class="lab" x="361" y="513.3" style="letter-spacing:0.25px">(d)</text>
<text class="leg" style="font-size:11.8px;letter-spacing:1.85px" transform="translate(511.2,344.29) scale(0.72,1)">77K</text>
<text class="leg" style="font-size:11.8px;letter-spacing:1.85px" transform="translate(511.2,357.79) scale(0.72,1)">127K</text>
<text class="leg" style="font-size:11.8px;letter-spacing:1.85px" transform="translate(511.2,371.19) scale(0.72,1)">177K</text></g></g>
<g id="pe"><rect x="62.9" y="541.5" width="261.55" height="210.4" fill="url(#ge)"/>
<line class="tk" x1="60.9" y1="752.5" x2="62.9" y2="752.5"/>
<line class="tk" x1="58.9" y1="737.5" x2="62.9" y2="737.5"/>
<line class="tk" x1="60.9" y1="721.5" x2="62.9" y2="721.5"/>
<line class="tk" x1="58.9" y1="706.5" x2="62.9" y2="706.5"/>
<line class="tk" x1="60.9" y1="691.5" x2="62.9" y2="691.5"/>
<line class="tk" x1="58.9" y1="676.5" x2="62.9" y2="676.5"/>
<line class="tk" x1="60.9" y1="661.5" x2="62.9" y2="661.5"/>
<line class="tk" x1="58.9" y1="646.5" x2="62.9" y2="646.5"/>
<line class="tk" x1="60.9" y1="631.5" x2="62.9" y2="631.5"/>
<line class="tk" x1="58.9" y1="616.5" x2="62.9" y2="616.5"/>
<line class="tk" x1="60.9" y1="601.5" x2="62.9" y2="601.5"/>
<line class="tk" x1="58.9" y1="586.5" x2="62.9" y2="586.5"/>
<line class="tk" x1="60.9" y1="571.5" x2="62.9" y2="571.5"/>
<line class="tk" x1="58.9" y1="556.5" x2="62.9" y2="556.5"/>
<line class="tk" x1="60.9" y1="541.5" x2="62.9" y2="541.5"/>
<line class="tk" x1="322.45" y1="562.5" x2="324.45" y2="562.5"/>
<line class="tk" x1="319.95" y1="583.5" x2="324.45" y2="583.5"/>
<line class="tk" x1="322.45" y1="604.5" x2="324.45" y2="604.5"/>
<line class="tk" x1="319.95" y1="625.5" x2="324.45" y2="625.5"/>
<line class="tk" x1="322.45" y1="646.5" x2="324.45" y2="646.5"/>
<line class="tk" x1="319.95" y1="667.5" x2="324.45" y2="667.5"/>
<line class="tk" x1="322.45" y1="688.5" x2="324.45" y2="688.5"/>
<line class="tk" x1="319.95" y1="709.5" x2="324.45" y2="709.5"/>
<line class="tk" x1="322.45" y1="730.5" x2="324.45" y2="730.5"/>
<line class="tk" x1="63.5" y1="751.9" x2="63.5" y2="753.9"/>
<line class="tk" x1="89.5" y1="751.9" x2="89.5" y2="755.9"/>
<line class="tk" x1="89.5" y1="541.5" x2="89.5" y2="543.5"/>
<line class="tk" x1="115.5" y1="751.9" x2="115.5" y2="753.9"/>
<line class="tk" x1="115.5" y1="541.5" x2="115.5" y2="545.5"/>
<line class="tk" x1="141.5" y1="751.9" x2="141.5" y2="755.9"/>
<line class="tk" x1="141.5" y1="541.5" x2="141.5" y2="543.5"/>
<line class="tk" x1="167.5" y1="751.9" x2="167.5" y2="753.9"/>
<line class="tk" x1="167.5" y1="541.5" x2="167.5" y2="545.5"/>
<line class="tk" x1="193.5" y1="751.9" x2="193.5" y2="755.9"/>
<line class="tk" x1="193.5" y1="541.5" x2="193.5" y2="543.5"/>
<line class="tk" x1="220.5" y1="751.9" x2="220.5" y2="753.9"/>
<line class="tk" x1="220.5" y1="541.5" x2="220.5" y2="545.5"/>
<line class="tk" x1="246.5" y1="751.9" x2="246.5" y2="755.9"/>
<line class="tk" x1="246.5" y1="541.5" x2="246.5" y2="543.5"/>
<line class="tk" x1="272.5" y1="751.9" x2="272.5" y2="753.9"/>
<line class="tk" x1="272.5" y1="541.5" x2="272.5" y2="545.5"/>
<line class="tk" x1="298.5" y1="751.9" x2="298.5" y2="755.9"/>
<line class="tk" x1="298.5" y1="541.5" x2="298.5" y2="543.5"/>
<line class="tk" x1="324.5" y1="751.9" x2="324.5" y2="753.9"/>
<rect x="62.9" y="541.5" width="261.55" height="210.4" fill="none" stroke-width="1.1"/>
<polyline points="89.4,736.4 104.52,732.3 119.63,727.5 134.75,722.3 149.86,716.3 164.98,709.5 180.09,701.3 195.21,692.2 210.32,681 225.44,668.9 240.55,655.8 255.67,641.4 270.78,626.9 285.9,611.4 301.01,596.2" fill="none" stroke="#646464" stroke-width="0.7" stroke-linejoin="round"/>
<rect x="87.1" y="734.1" width="4.6" height="4.6" fill="#3f3f3f"/>
<rect x="102.22" y="730" width="4.6" height="4.6" fill="#3f3f3f"/>
<rect x="117.33" y="725.2" width="4.6" height="4.6" fill="#3f3f3f"/>
<rect x="132.45" y="720" width="4.6" height="4.6" fill="#3f3f3f"/>
<rect x="147.56" y="714" width="4.6" height="4.6" fill="#3f3f3f"/>
<rect x="162.68" y="707.2" width="4.6" height="4.6" fill="#3f3f3f"/>
<rect x="177.79" y="699" width="4.6" height="4.6" fill="#3f3f3f"/>
<rect x="192.91" y="689.9" width="4.6" height="4.6" fill="#3f3f3f"/>
<rect x="208.02" y="678.7" width="4.6" height="4.6" fill="#3f3f3f"/>
<rect x="223.14" y="666.6" width="4.6" height="4.6" fill="#3f3f3f"/>
<rect x="238.25" y="653.5" width="4.6" height="4.6" fill="#3f3f3f"/>
<rect x="253.37" y="639.1" width="4.6" height="4.6" fill="#3f3f3f"/>
<rect x="268.48" y="624.6" width="4.6" height="4.6" fill="#3f3f3f"/>
<rect x="283.6" y="609.1" width="4.6" height="4.6" fill="#3f3f3f"/>
<rect x="298.71" y="593.9" width="4.6" height="4.6" fill="#3f3f3f"/>
<polyline points="89.4,736.4 104.52,703 119.63,670.6 134.75,641.3 149.86,615.9 164.98,596.2 180.09,583.3 195.21,578.6 210.32,583.4 225.44,596.2 240.55,616 255.67,641.4 270.78,670.8 285.9,703.2 301.01,737" fill="none" stroke="#f05a5a" stroke-width="0.7" stroke-linejoin="round"/>
<circle cx="89.4" cy="736.4" r="2.65" fill="#f23c3c"/>
<circle cx="104.52" cy="703" r="2.65" fill="#f23c3c"/>
<circle cx="119.63" cy="670.6" r="2.65" fill="#f23c3c"/>
<circle cx="134.75" cy="641.3" r="2.65" fill="#f23c3c"/>
<circle cx="149.86" cy="615.9" r="2.65" fill="#f23c3c"/>
<circle cx="164.98" cy="596.2" r="2.65" fill="#f23c3c"/>
<circle cx="180.09" cy="583.3" r="2.65" fill="#f23c3c"/>
<circle cx="195.21" cy="578.6" r="2.65" fill="#f23c3c"/>
<circle cx="210.32" cy="583.4" r="2.65" fill="#f23c3c"/>
<circle cx="225.44" cy="596.2" r="2.65" fill="#f23c3c"/>
<circle cx="240.55" cy="616" r="2.65" fill="#f23c3c"/>
<circle cx="255.67" cy="641.4" r="2.65" fill="#f23c3c"/>
<circle cx="270.78" cy="670.8" r="2.65" fill="#f23c3c"/>
<circle cx="285.9" cy="703.2" r="2.65" fill="#f23c3c"/>
<circle cx="301.01" cy="737" r="2.65" fill="#f23c3c"/>
<polyline points="89.4,736.2 104.52,720.2 119.63,704.9 134.75,689.3 149.86,674.7 164.98,660.1 180.09,646.6 195.21,633.8 210.32,622.8 225.44,611.9 240.55,602.3 255.67,593.1 270.78,584.1 285.9,576.2 301.01,568" fill="none" stroke="#4a86e8" stroke-width="0.7" stroke-linejoin="round"/>
<polygon points="86.15,738.8 92.65,738.8 89.4,733.6" fill="#1a62e2"/>
<polygon points="101.27,722.8 107.77,722.8 104.52,717.6" fill="#1a62e2"/>
<polygon points="116.38,707.5 122.88,707.5 119.63,702.3" fill="#1a62e2"/>
<polygon points="131.5,691.9 138,691.9 134.75,686.7" fill="#1a62e2"/>
<polygon points="146.61,677.3 153.11,677.3 149.86,672.1" fill="#1a62e2"/>
<polygon points="161.73,662.7 168.23,662.7 164.98,657.5" fill="#1a62e2"/>
<polygon points="176.84,649.2 183.34,649.2 180.09,644" fill="#1a62e2"/>
<polygon points="191.96,636.4 198.46,636.4 195.21,631.2" fill="#1a62e2"/>
<polygon points="207.07,625.4 213.57,625.4 210.32,620.2" fill="#1a62e2"/>
<polygon points="222.19,614.5 228.69,614.5 225.44,609.3" fill="#1a62e2"/>
<polygon points="237.3,604.9 243.8,604.9 240.55,599.7" fill="#1a62e2"/>
<polygon points="252.42,595.7 258.92,595.7 255.67,590.5" fill="#1a62e2"/>
<polygon points="267.53,586.7 274.03,586.7 270.78,581.5" fill="#1a62e2"/>
<polygon points="282.65,578.8 289.15,578.8 285.9,573.6" fill="#1a62e2"/>
<polygon points="297.76,570.6 304.26,570.6 301.01,565.4" fill="#1a62e2"/>
<rect x="89.3" y="570.5" width="54.5" height="41.7" fill="#ffffff" stroke="#8c8c8c" stroke-width="1"/>
<line x1="91.2" y1="578.1" x2="115.5" y2="578.1" stroke="#aaa" stroke-width="1"/>
<rect x="101" y="575.8" width="4.6" height="4.6" fill="#3f3f3f"/>
<line x1="91.2" y1="591.6" x2="115.5" y2="591.6" stroke="#f5a0a0" stroke-width="1"/>
<circle cx="103.3" cy="591.6" r="2.65" fill="#f23c3c"/>
<line x1="91.2" y1="605" x2="115.5" y2="605" stroke="#9ec0f0" stroke-width="1"/>
<polygon points="100.05,607.6 106.55,607.6 103.3,602.4" fill="#1a62e2"/><g filter="url(#nf)"><text class="t9" transform="translate(55.6,740.3) scale(1,1.08)" text-anchor="end">0.00E+000</text>
<text class="t9" transform="translate(55.6,710.22) scale(1,1.08)" text-anchor="end">5.00E+017</text>
<text class="t9" transform="translate(55.6,680.13) scale(1,1.08)" text-anchor="end">1.00E+018</text>
<text class="t9" transform="translate(55.6,650.05) scale(1,1.08)" text-anchor="end">1.50E+018</text>
<text class="t9" transform="translate(55.6,619.97) scale(1,1.08)" text-anchor="end">2.00E+018</text>
<text class="t9" transform="translate(55.6,589.88) scale(1,1.08)" text-anchor="end">2.50E+018</text>
<text class="t9" transform="translate(55.6,559.8) scale(1,1.08)" text-anchor="end">3.00E+018</text>
<text class="t9" transform="translate(89.4,766.1) scale(1,1.08)" text-anchor="middle">0</text>
<text class="t9" transform="translate(141.65,766.1) scale(1,1.08)" text-anchor="middle">200</text>
<text class="t9" transform="translate(193.9,766.1) scale(1,1.08)" text-anchor="middle">400</text>
<text class="t9" transform="translate(246.15,766.1) scale(1,1.08)" text-anchor="middle">600</text>
<text class="t9" transform="translate(298.4,766.1) scale(1,1.08)" text-anchor="middle">800</text>
<text class="t11" transform="translate(193.67,783.1) scale(1,1.11)" text-anchor="middle">Step</text>
<text class="t11" transform="translate(11.7,698) rotate(-90) scale(1,1.11)">Dislocation density/m<tspan class="sup" dy="-4.4">-2</tspan></text>
<text class="lab" x="1" y="783.9" style="letter-spacing:0.6px">(e)</text>
<text class="leg" style="font-size:11.8px;letter-spacing:1.85px" transform="translate(117.9,581.99) scale(0.72,1)">77K</text>
<text class="leg" style="font-size:11.8px;letter-spacing:1.85px" transform="translate(117.9,595.49) scale(0.72,1)">127K</text>
<text class="leg" style="font-size:11.8px;letter-spacing:1.85px" transform="translate(117.9,608.89) scale(0.72,1)">177K</text></g></g>
<g id="pf"><rect x="423.5" y="543.1" width="261" height="210.3" fill="url(#gf)"/>
<line class="tk" x1="419.5" y1="753.5" x2="423.5" y2="753.5"/>
<line class="tk" x1="421.5" y1="735.5" x2="423.5" y2="735.5"/>
<line class="tk" x1="419.5" y1="718.5" x2="423.5" y2="718.5"/>
<line class="tk" x1="421.5" y1="700.5" x2="423.5" y2="700.5"/>
<line class="tk" x1="419.5" y1="683.5" x2="423.5" y2="683.5"/>
<line class="tk" x1="421.5" y1="665.5" x2="423.5" y2="665.5"/>
<line class="tk" x1="419.5" y1="648.5" x2="423.5" y2="648.5"/>
<line class="tk" x1="421.5" y1="630.5" x2="423.5" y2="630.5"/>
<line class="tk" x1="419.5" y1="613.5" x2="423.5" y2="613.5"/>
<line class="tk" x1="421.5" y1="595.5" x2="423.5" y2="595.5"/>
<line class="tk" x1="419.5" y1="578.5" x2="423.5" y2="578.5"/>
<line class="tk" x1="421.5" y1="560.5" x2="423.5" y2="560.5"/>
<line class="tk" x1="419.5" y1="543.5" x2="423.5" y2="543.5"/>
<line class="tk" x1="682.5" y1="564.5" x2="684.5" y2="564.5"/>
<line class="tk" x1="680" y1="585.5" x2="684.5" y2="585.5"/>
<line class="tk" x1="682.5" y1="606.5" x2="684.5" y2="606.5"/>
<line class="tk" x1="680" y1="627.5" x2="684.5" y2="627.5"/>
<line class="tk" x1="682.5" y1="648.5" x2="684.5" y2="648.5"/>
<line class="tk" x1="680" y1="669.5" x2="684.5" y2="669.5"/>
<line class="tk" x1="682.5" y1="690.5" x2="684.5" y2="690.5"/>
<line class="tk" x1="680" y1="711.5" x2="684.5" y2="711.5"/>
<line class="tk" x1="682.5" y1="732.5" x2="684.5" y2="732.5"/>
<line class="tk" x1="423.5" y1="753.4" x2="423.5" y2="755.4"/>
<line class="tk" x1="449.5" y1="753.4" x2="449.5" y2="757.4"/>
<line class="tk" x1="449.5" y1="543.1" x2="449.5" y2="545.1"/>
<line class="tk" x1="475.5" y1="753.4" x2="475.5" y2="755.4"/>
<line class="tk" x1="475.5" y1="543.1" x2="475.5" y2="547.1"/>
<line class="tk" x1="501.5" y1="753.4" x2="501.5" y2="757.4"/>
<line class="tk" x1="501.5" y1="543.1" x2="501.5" y2="545.1"/>
<line class="tk" x1="527.5" y1="753.4" x2="527.5" y2="755.4"/>
<line class="tk" x1="527.5" y1="543.1" x2="527.5" y2="547.1"/>
<line class="tk" x1="554.5" y1="753.4" x2="554.5" y2="757.4"/>
<line class="tk" x1="554.5" y1="543.1" x2="554.5" y2="545.1"/>
<line class="tk" x1="580.5" y1="753.4" x2="580.5" y2="755.4"/>
<line class="tk" x1="580.5" y1="543.1" x2="580.5" y2="547.1"/>
<line class="tk" x1="606.5" y1="753.4" x2="606.5" y2="757.4"/>
<line class="tk" x1="606.5" y1="543.1" x2="606.5" y2="545.1"/>
<line class="tk" x1="632.5" y1="753.4" x2="632.5" y2="755.4"/>
<line class="tk" x1="632.5" y1="543.1" x2="632.5" y2="547.1"/>
<line class="tk" x1="658.5" y1="753.4" x2="658.5" y2="757.4"/>
<line class="tk" x1="658.5" y1="543.1" x2="658.5" y2="545.1"/>
<line class="tk" x1="684.5" y1="753.4" x2="684.5" y2="755.4"/>
<rect x="423.5" y="543.1" width="261" height="210.3" fill="none" stroke-width="1.1"/>
<polyline points="449.5,660.2 464.62,664.4 479.73,669.4 494.85,673.6 509.96,677.8 525.08,682.1 540.19,685.4 555.31,688.6 570.42,691.6 585.54,693.9 600.65,696 615.77,698 630.88,699.7 646,701.3 661.11,702.9" fill="none" stroke="#646464" stroke-width="0.7" stroke-linejoin="round"/>
<rect x="447.2" y="657.9" width="4.6" height="4.6" fill="#3f3f3f"/>
<rect x="462.32" y="662.1" width="4.6" height="4.6" fill="#3f3f3f"/>
<rect x="477.43" y="667.1" width="4.6" height="4.6" fill="#3f3f3f"/>
<rect x="492.55" y="671.3" width="4.6" height="4.6" fill="#3f3f3f"/>
<rect x="507.66" y="675.5" width="4.6" height="4.6" fill="#3f3f3f"/>
<rect x="522.78" y="679.8" width="4.6" height="4.6" fill="#3f3f3f"/>
<rect x="537.89" y="683.1" width="4.6" height="4.6" fill="#3f3f3f"/>
<rect x="553.01" y="686.3" width="4.6" height="4.6" fill="#3f3f3f"/>
<rect x="568.12" y="689.3" width="4.6" height="4.6" fill="#3f3f3f"/>
<rect x="583.24" y="691.6" width="4.6" height="4.6" fill="#3f3f3f"/>
<rect x="598.35" y="693.7" width="4.6" height="4.6" fill="#3f3f3f"/>
<rect x="613.47" y="695.7" width="4.6" height="4.6" fill="#3f3f3f"/>
<rect x="628.58" y="697.4" width="4.6" height="4.6" fill="#3f3f3f"/>
<rect x="643.7" y="699" width="4.6" height="4.6" fill="#3f3f3f"/>
<rect x="658.81" y="700.6" width="4.6" height="4.6" fill="#3f3f3f"/>
<polyline points="449.5,562.5 464.62,590.3 479.73,617.4 494.85,642.8 509.96,666.3 525.08,687.5 540.19,704.9 555.31,718.2 570.42,726.9 585.54,731.7 600.65,732.8 615.77,731.7 630.88,728.2 646,723.4 661.11,718" fill="none" stroke="#f05a5a" stroke-width="0.7" stroke-linejoin="round"/>
<circle cx="449.5" cy="562.5" r="2.65" fill="#f23c3c"/>
<circle cx="464.62" cy="590.3" r="2.65" fill="#f23c3c"/>
<circle cx="479.73" cy="617.4" r="2.65" fill="#f23c3c"/>
<circle cx="494.85" cy="642.8" r="2.65" fill="#f23c3c"/>
<circle cx="509.96" cy="666.3" r="2.65" fill="#f23c3c"/>
<circle cx="525.08" cy="687.5" r="2.65" fill="#f23c3c"/>
<circle cx="540.19" cy="704.9" r="2.65" fill="#f23c3c"/>
<circle cx="555.31" cy="718.2" r="2.65" fill="#f23c3c"/>
<circle cx="570.42" cy="726.9" r="2.65" fill="#f23c3c"/>
<circle cx="585.54" cy="731.7" r="2.65" fill="#f23c3c"/>
<circle cx="600.65" cy="732.8" r="2.65" fill="#f23c3c"/>
<circle cx="615.77" cy="731.7" r="2.65" fill="#f23c3c"/>
<circle cx="630.88" cy="728.2" r="2.65" fill="#f23c3c"/>
<circle cx="646" cy="723.4" r="2.65" fill="#f23c3c"/>
<circle cx="661.11" cy="718" r="2.65" fill="#f23c3c"/>
<polyline points="449.5,591.5 464.62,616.6 479.73,641.4 494.85,663.7 509.96,683.7 525.08,699.7 540.19,711.5 555.31,717.6 570.42,718.2 585.54,713.2 600.65,703.8 615.77,691 630.88,674.9 646,657.3 661.11,638.8" fill="none" stroke="#4a86e8" stroke-width="0.7" stroke-linejoin="round"/>
<polygon points="446.25,594.1 452.75,594.1 449.5,588.9" fill="#1a62e2"/>
<polygon points="461.37,619.2 467.87,619.2 464.62,614" fill="#1a62e2"/>
<polygon points="476.48,644 482.98,644 479.73,638.8" fill="#1a62e2"/>
<polygon points="491.6,666.3 498.1,666.3 494.85,661.1" fill="#1a62e2"/>
<polygon points="506.71,686.3 513.21,686.3 509.96,681.1" fill="#1a62e2"/>
<polygon points="521.83,702.3 528.33,702.3 525.08,697.1" fill="#1a62e2"/>
<polygon points="536.94,714.1 543.44,714.1 540.19,708.9" fill="#1a62e2"/>
<polygon points="552.06,720.2 558.56,720.2 555.31,715" fill="#1a62e2"/>
<polygon points="567.17,720.8 573.67,720.8 570.42,715.6" fill="#1a62e2"/>
<polygon points="582.29,715.8 588.79,715.8 585.54,710.6" fill="#1a62e2"/>
<polygon points="597.4,706.4 603.9,706.4 600.65,701.2" fill="#1a62e2"/>
<polygon points="612.52,693.6 619.02,693.6 615.77,688.4" fill="#1a62e2"/>
<polygon points="627.63,677.5 634.13,677.5 630.88,672.3" fill="#1a62e2"/>
<polygon points="642.75,659.9 649.25,659.9 646,654.7" fill="#1a62e2"/>
<polygon points="657.86,641.4 664.36,641.4 661.11,636.2" fill="#1a62e2"/>
<rect x="524.3" y="582.3" width="54.5" height="42.2" fill="#ffffff" stroke="#8c8c8c" stroke-width="1"/>
<line x1="526.2" y1="590" x2="549.9" y2="590" stroke="#aaa" stroke-width="1"/>
<rect x="535.7" y="587.7" width="4.6" height="4.6" fill="#3f3f3f"/>
<line x1="526.2" y1="603.4" x2="549.9" y2="603.4" stroke="#f5a0a0" stroke-width="1"/>
<circle cx="538" cy="603.4" r="2.65" fill="#f23c3c"/>
<line x1="526.2" y1="616.7" x2="549.9" y2="616.7" stroke="#9ec0f0" stroke-width="1"/>
<polygon points="534.75,619.3 541.25,619.3 538,614.1" fill="#1a62e2"/><g filter="url(#nf)"><text class="t9" transform="translate(416.2,756.76) scale(1,1.08)" text-anchor="end">-1.00E+018</text>
<text class="t9" transform="translate(416.2,721.7) scale(1,1.08)" text-anchor="end">0.00E+000</text>
<text class="t9" transform="translate(416.2,686.64) scale(1,1.08)" text-anchor="end">1.00E+018</text>
<text class="t9" transform="translate(416.2,651.58) scale(1,1.08)" text-anchor="end">2.00E+018</text>
<text class="t9" transform="translate(416.2,616.52) scale(1,1.08)" text-anchor="end">3.00E+018</text>
<text class="t9" transform="translate(416.2,581.46) scale(1,1.08)" text-anchor="end">4.00E+018</text>
<text class="t9" transform="translate(416.2,546.4) scale(1,1.08)" text-anchor="end">5.00E+018</text>
<text class="t9" transform="translate(449.5,767.6) scale(1,1.08)" text-anchor="middle">0</text>
<text class="t9" transform="translate(501.75,767.6) scale(1,1.08)" text-anchor="middle">200</text>
<text class="t9" transform="translate(554,767.6) scale(1,1.08)" text-anchor="middle">400</text>
<text class="t9" transform="translate(606.25,767.6) scale(1,1.08)" text-anchor="middle">600</text>
<text class="t9" transform="translate(658.5,767.6) scale(1,1.08)" text-anchor="middle">800</text>
<text class="t11" transform="translate(554,784.6) scale(1,1.11)" text-anchor="middle">Step</text>
<text class="t11" transform="translate(369.6,699.5) rotate(-90) scale(1,1.11)">Dislocation density/m<tspan class="sup" dy="-4.4">-2</tspan></text>
<text class="lab" x="362" y="784" style="letter-spacing:0.6px">(f)</text>
<text class="leg" style="font-size:11.8px;letter-spacing:1.85px" transform="translate(552.4,593.89) scale(0.72,1)">77K</text>
<text class="leg" style="font-size:11.8px;letter-spacing:1.85px" transform="translate(552.4,607.29) scale(0.72,1)">127K</text>
<text class="leg" style="font-size:11.8px;letter-spacing:1.85px" transform="translate(552.4,620.59) scale(0.72,1)">177K</text></g></g>
</svg></body></html>
